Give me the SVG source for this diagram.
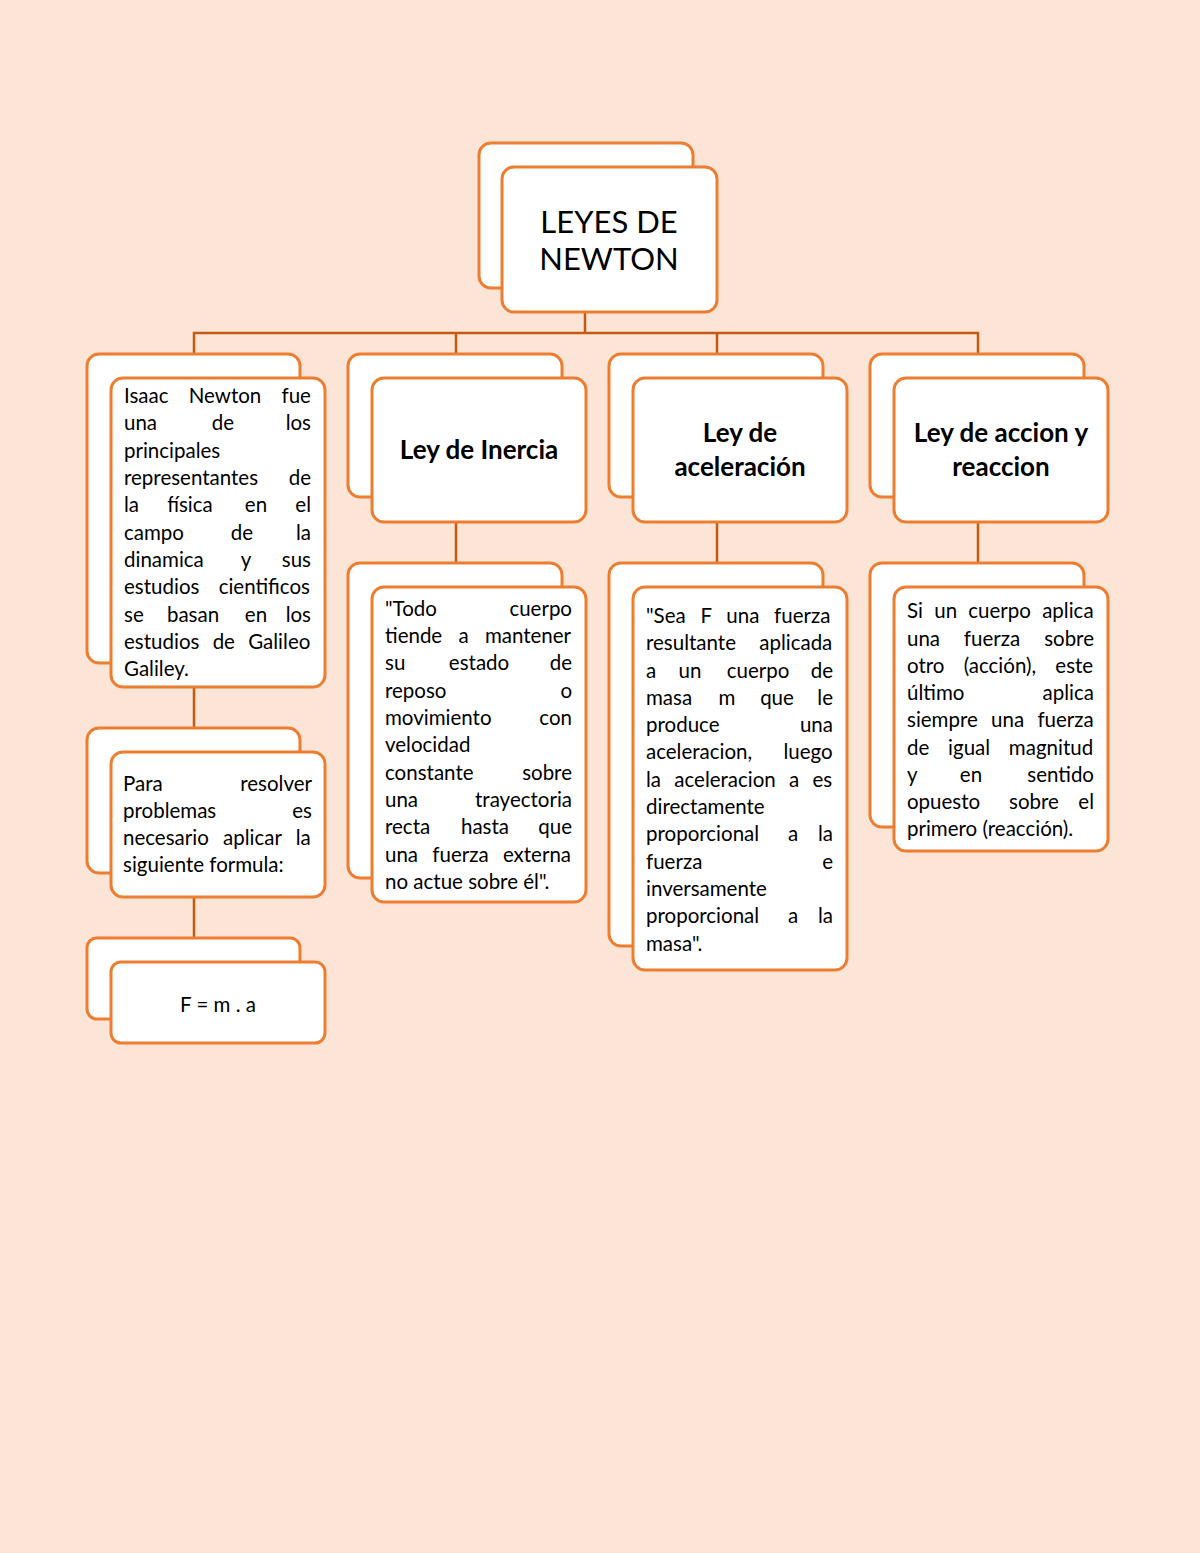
<svg xmlns="http://www.w3.org/2000/svg" width="1200" height="1553" viewBox="0 0 1200 1553">
<style>
.b{fill:#fff;stroke:#ED7D31;stroke-width:3}
.c{fill:none;stroke:#C55A11;stroke-width:2.5}
.t{font-family:Lato,"Open Sans",sans-serif;font-size:20.5px;fill:#000}
.h{font-family:Lato,"Open Sans",sans-serif;font-size:26px;font-weight:bold;fill:#000;text-anchor:middle}
.j{font-family:Lato,"Open Sans",sans-serif;font-size:20.5px;fill:#000}
.e{text-anchor:end}
.m{text-anchor:middle}
</style>
<rect width="1200" height="1553" fill="#FCE4D6"/>
<g id="connectors">
<path class="c" d="M585 312V333M194 354V333H978V354M456 333V354M717 333V354"/>
<path class="c" d="M194 687V728M194 897V938M456 522V563M717 522V563M978 522V563"/>
</g>
<g id="n0">
<rect class="b" x="479" y="143" width="214" height="145" rx="12"/>
<rect class="b" x="502" y="167" width="215" height="145" rx="12"/>
<text class="h" style="font-weight:normal;font-size:31px" x="609" y="233">LEYES DE</text>
<text class="h" style="font-weight:normal;font-size:31px" x="609" y="270">NEWTON</text>
</g>
<g id="n1">
<rect class="b" x="87" y="354" width="213" height="309" rx="12"/>
<rect class="b" x="111" y="378" width="214" height="309" rx="12"/>
<g class="j">
<text x="124" y="403" word-spacing="15">Isaac Newton fue</text>
<text x="124" y="430">una</text><text class="m" x="223" y="430">de</text><text class="e" x="311" y="430">los</text>
<text x="124" y="458">principales</text>
<text x="124" y="485">representantes</text><text class="e" x="311" y="485">de</text>
<text x="124" y="512">la</text><text class="m" x="190" y="512">física</text><text class="m" x="256" y="512">en</text><text class="e" x="311" y="512">el</text>
<text x="124" y="540">campo</text><text class="m" x="242" y="540">de</text><text class="e" x="311" y="540">la</text>
<text x="124" y="567">dinamica</text><text class="m" x="246" y="567">y</text><text class="e" x="311" y="567">sus</text>
<text x="124" y="594" word-spacing="14">estudios cientificos</text>
<text x="124" y="622">se</text><text class="m" x="193" y="622">basan</text><text class="m" x="256" y="622">en</text><text class="e" x="311" y="622">los</text>
<text x="124" y="649" word-spacing="8">estudios de Galileo</text>
<text x="124" y="676">Galiley.</text>
</g>
</g>
<g id="n2">
<rect class="b" x="87" y="728" width="213" height="145" rx="12"/>
<rect class="b" x="111" y="752" width="214" height="145" rx="12"/>
<g class="j">
<text x="123" y="791">Para</text><text class="e" x="312" y="791">resolver</text>
<text x="123" y="818">problemas</text><text class="e" x="312" y="818">es</text>
<text x="123" y="845" word-spacing="9">necesario aplicar la</text>
<text x="123" y="872">siguiente formula:</text>
</g>
</g>
<g id="n3">
<rect class="b" x="87" y="938" width="213" height="81" rx="10"/>
<rect class="b" x="111" y="962" width="214" height="81" rx="10"/>
<text class="t" x="218" y="1012" text-anchor="middle">F = m . a</text>
</g>
<g id="n4">
<rect class="b" x="348" y="354" width="214" height="143" rx="12"/>
<rect class="b" x="372" y="378" width="214" height="144" rx="12"/>
<text class="h" x="479" y="459">Ley de Inercia</text>
</g>
<g id="n5">
<rect class="b" x="348" y="563" width="214" height="315" rx="12"/>
<rect class="b" x="372" y="587" width="214" height="315" rx="12"/>
<g class="j">
<text x="385" y="616">"Todo</text><text class="e" x="572" y="616">cuerpo</text>
<text x="385" y="643" word-spacing="11">tiende a mantener</text>
<text x="385" y="670">su</text><text class="m" x="479" y="670">estado</text><text class="e" x="572" y="670">de</text>
<text x="385" y="698">reposo</text><text class="e" x="572" y="698">o</text>
<text x="385" y="725">movimiento</text><text class="e" x="572" y="725">con</text>
<text x="385" y="752">velocidad</text>
<text x="385" y="780">constante</text><text class="e" x="572" y="780">sobre</text>
<text x="385" y="807">una</text><text class="e" x="572" y="807">trayectoria</text>
<text x="385" y="834">recta</text><text class="m" x="485" y="834">hasta</text><text class="e" x="572" y="834">que</text>
<text x="385" y="862" word-spacing="9">una fuerza externa</text>
<text x="385" y="889">no actue sobre él".</text>
</g>
</g>
<g id="n6">
<rect class="b" x="609" y="354" width="214" height="143" rx="12"/>
<rect class="b" x="633" y="378" width="214" height="144" rx="12"/>
<text class="h" x="740" y="442">Ley de</text>
<text class="h" x="740" y="476">aceleración</text>
</g>
<g id="n7">
<rect class="b" x="609" y="563" width="214" height="383" rx="12"/>
<rect class="b" x="633" y="587" width="214" height="383" rx="12"/>
<g class="j">
<text x="646" y="623" word-spacing="9.5">"Sea F una fuerza</text>
<text x="646" y="650" word-spacing="18">resultante aplicada</text>
<text x="646" y="678">a</text><text class="m" x="690" y="678">un</text><text class="m" x="758" y="678">cuerpo</text><text class="e" x="833" y="678">de</text>
<text x="646" y="705">masa</text><text class="m" x="727" y="705">m</text><text class="m" x="777" y="705">que</text><text class="e" x="833" y="705">le</text>
<text x="646" y="732">produce</text><text class="e" x="833" y="732">una</text>
<text x="646" y="759" word-spacing="26">aceleracion, luego</text>
<text x="646" y="787" word-spacing="8">la aceleracion a es</text>
<text x="646" y="814">directamente</text>
<text x="646" y="841">proporcional</text><text class="m" x="793" y="841">a</text><text class="e" x="833" y="841">la</text>
<text x="646" y="869">fuerza</text><text class="e" x="833" y="869">e</text>
<text x="646" y="896">inversamente</text>
<text x="646" y="923">proporcional</text><text class="m" x="793" y="923">a</text><text class="e" x="833" y="923">la</text>
<text x="646" y="951">masa".</text>
</g>
</g>
<g id="n8">
<rect class="b" x="870" y="354" width="214" height="143" rx="12"/>
<rect class="b" x="894" y="378" width="214" height="144" rx="12"/>
<text class="h" x="1001" y="442">Ley de accion y</text>
<text class="h" x="1001" y="476">reaccion</text>
</g>
<g id="n9">
<rect class="b" x="870" y="563" width="214" height="264" rx="12"/>
<rect class="b" x="894" y="587" width="214" height="264" rx="12"/>
<g class="j">
<text x="907" y="618" word-spacing="6">Si un cuerpo aplica</text>
<text x="907" y="646">una</text><text class="m" x="992" y="646">fuerza</text><text class="e" x="1094" y="646">sobre</text>
<text x="907" y="673" word-spacing="14">otro (acción), este</text>
<text x="907" y="700">último</text><text class="e" x="1094" y="700">aplica</text>
<text x="907" y="727" word-spacing="8">siempre una fuerza</text>
<text x="907" y="755" word-spacing="13.5">de igual magnitud</text>
<text x="907" y="782">y</text><text class="m" x="971" y="782">en</text><text class="e" x="1094" y="782">sentido</text>
<text x="907" y="809">opuesto</text><text class="m" x="1034" y="809">sobre</text><text class="e" x="1094" y="809">el</text>
<text x="907" y="836">primero (reacción).</text>
</g>
</g>
</svg>
